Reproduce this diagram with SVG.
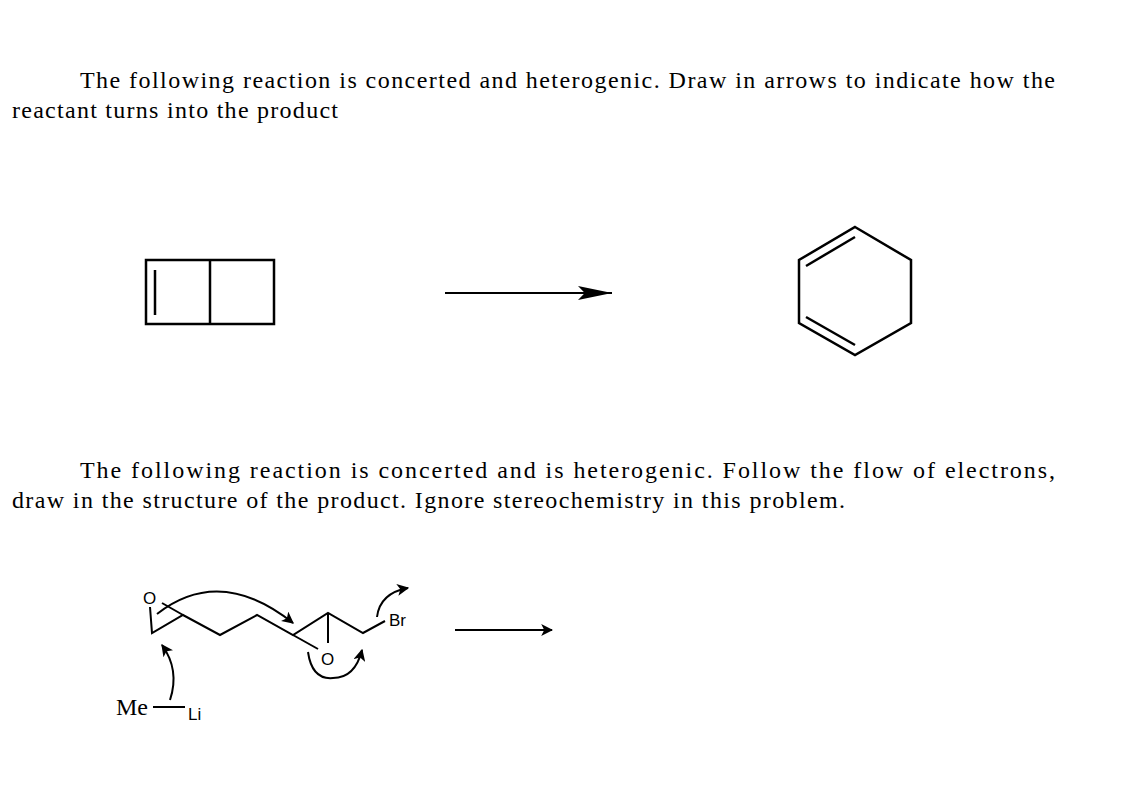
<svg xmlns="http://www.w3.org/2000/svg" width="1134" height="804" viewBox="0 0 1134 804">
<defs>
<style>
.t{font-family:"Liberation Serif",serif;font-size:24px;fill:#000}
.s{font-family:"Liberation Sans",sans-serif;font-size:17px;fill:#000}
.b{stroke:#000;stroke-width:2.5;fill:none}
.c{stroke:#000;stroke-width:2;fill:none}
</style>
<marker id="ah" viewBox="0 0 10 10" refX="9" refY="5" markerWidth="12" markerHeight="12" orient="auto" markerUnits="userSpaceOnUse"><path d="M0,0L10,5L0,10L2.5,5z" fill="#000"/></marker>
<marker id="big" viewBox="0 0 10 10" refX="10" refY="5" markerWidth="34" markerHeight="14" orient="auto" markerUnits="userSpaceOnUse" preserveAspectRatio="none"><path d="M0,0L10,5L0,10L2,5z" fill="#000"/></marker>
</defs>
<rect width="1134" height="804" fill="#fff"/>
<text class="t" x="80" y="88" textLength="975" lengthAdjust="spacing">The following reaction is concerted and heterogenic.  Draw in arrows to indicate how the</text>
<text class="t" x="12" y="118" textLength="326" lengthAdjust="spacing">reactant turns into the product</text>
<text class="t" x="80" y="478" textLength="975" lengthAdjust="spacing">The following reaction is concerted and is heterogenic.  Follow the flow of electrons,</text>
<text class="t" x="12" y="508" textLength="833" lengthAdjust="spacing">draw in the structure of the product.  Ignore stereochemistry in this problem.</text>
<g id="cyclobutene">
<rect x="146" y="260" width="128" height="64" class="b" stroke-width="3"/>
<line x1="210" y1="260" x2="210" y2="324" class="b"/>
<line x1="155" y1="270" x2="155" y2="315" class="b"/>
</g>
<g id="cyclohexadiene">
<polygon points="855,227 911,260 911,323 855,355 799,323 799,260" class="b"/>
<line x1="806" y1="266" x2="855" y2="237" class="b"/>
<line x1="806" y1="317" x2="855" y2="345" class="b"/>
</g>
<g id="reactant2">
<text class="s" x="143" y="604">O</text>
<polyline points="150,607 152,633 183,615 220,635 257,615 293,635 328,613 363,633 385,621" class="c"/>
<line x1="162" y1="603" x2="183" y2="615" class="c"/>
<line x1="293" y1="635" x2="318" y2="649" class="c"/>
<line x1="328" y1="613" x2="328" y2="643" class="c"/>
<text class="s" x="321" y="665">O</text>
<text class="s" x="389" y="626">Br</text>
<text class="t" x="116" y="715">Me</text>
<line x1="153" y1="707" x2="185" y2="707" class="c"/>
<text class="s" x="188" y="720">Li</text>
</g>
<g id="connectors">
<line x1="445" y1="293" x2="612" y2="293" class="c" marker-end="url(#big)"/>
<line x1="455" y1="630" x2="552" y2="630" class="c" marker-end="url(#ah)"/>
<path d="M157,614 Q220,565 293,623" class="c" marker-end="url(#ah)"/>
<path d="M377,617 Q380,593 408,588" class="c" marker-end="url(#ah)"/>
<path d="M308,652 Q312,680 333,678 Q355,678 362,650" class="c" marker-end="url(#ah)"/>
<path d="M170,700 Q180,670 162,645" class="c" marker-end="url(#ah)"/>
</g>
</svg>
